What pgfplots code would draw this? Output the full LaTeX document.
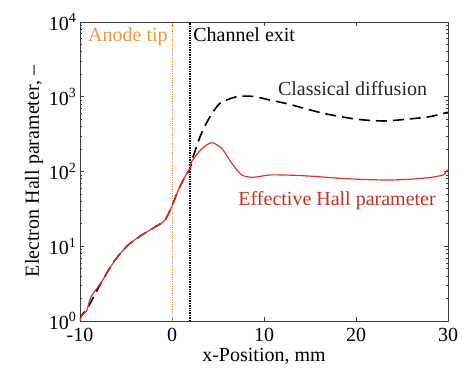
\documentclass[border=0pt]{standalone}
\usepackage{fontspec}
\setmainfont{Liberation Serif}
\newfontfamily\plotfont[Ligatures=TeX]{Liberation Serif}
\usepackage{pgfplots}
\pgfplotsset{compat=1.18}

\definecolor{hallred}{RGB}{226,52,40}
\definecolor{anodeorange}{RGB}{238,150,60}
\definecolor{axisgray}{RGB}{60,60,60}

\begin{document}
\begin{tikzpicture}[font=\plotfont\fontsize{20bp}{23bp}\selectfont]
\begin{axis}[
  scale only axis,
  width=368bp, height=299bp,
  xmin=-10, xmax=30,
  ymode=log, ymin=1, ymax=1e4,
  xtick={-10,0,10,20,30},
  xticklabels={-10,0,10,20,30},
  ytick={1,10,100,1000,10000},
  yticklabels={10\textsuperscript{0},10\textsuperscript{1},10\textsuperscript{2},10\textsuperscript{3},10\textsuperscript{4}},
  tick align=inside,
  major tick length=4bp,
  minor tick length=2.5bp,
  tick style={axisgray, line width=0.6pt},
  axis line style={axisgray, line width=0.8pt},
  xlabel={x-Position, mm},
  ylabel={Electron Hall parameter, –},
  xlabel style={yshift=1bp},
  ylabel style={yshift=-1bp},
  xticklabel style={yshift=-4bp},
  ticklabel style={font=\plotfont\fontsize{20bp}{23bp}\selectfont},
  label style={font=\plotfont\fontsize{20bp}{23bp}\selectfont},
  clip=true,
]
% anode tip and channel exit
\addplot[anodeorange, densely dotted, line width=0.8pt] coordinates {(0,1) (0,1e4)};
\addplot[black, densely dotted, line width=1.4pt] coordinates {(1.96,1) (1.96,1e4)};

% classical diffusion
\addplot[black, line width=1.6pt, dash pattern=on 11bp off 6bp, smooth, tension=0.4] coordinates {
  (-10,1.0) (-9.9,1.15) (-9.1,1.55) (-7.64,3.36) (-6.2,6.5) (-4.75,10.4)
  (-3.3,14.1) (-1.49,19.2) (-0.76,22.4) (-0.03,33.8) (0.69,56.8) (1.41,85)
  (1.96,110) (2.3,158) (3.2,325) (4.13,540) (5.2,815) (7.0,1000) (8.84,1010)
  (10.65,904) (12.8,790) (16.45,600) (20.07,500) (23,474) (25.5,500) (28,541) (30,620)
};

% effective Hall parameter
\addplot[hallred, line width=1.2pt, smooth, tension=0.4] coordinates {
  (-10,1.0) (-9.8,1.2) (-9.3,1.35) (-8.8,2.1) (-7.64,3.36) (-6.2,6.5) (-4.75,10.4)
  (-3.3,14.1) (-1.49,19.2) (-0.76,22.4) (-0.03,33.8) (0.69,56.8) (1.41,85)
  (1.96,110) (2.14,136) (3.2,200) (4.3,243) (5.4,204) (6.5,129) (7.57,90)
  (8.84,83.6) (10.65,90) (13.2,89) (15.5,86) (18.3,81) (21,78) (23.7,77)
  (26,79) (28,83) (29.5,90) (29.8,102) (30,105)
};

\node[anchor=base east, inner sep=0, text=anodeorange] at (axis cs:-0.45,5440) {Anode tip};
\node[anchor=base west, inner sep=0, text=black] at (axis cs:2.3,5440) {Channel exit};
\node[anchor=base west, inner sep=0, text=black!85] at (axis cs:11.5,1055) {Classical diffusion};
\node[anchor=base west, inner sep=0, text=hallred!90!black] at (axis cs:7.2,35.6) {Effective Hall parameter};
\end{axis}
\pgfresetboundingbox
\path[use as bounding box] (-80bp,-58bp) rectangle (394bp,321bp);
\end{tikzpicture}
\end{document}
